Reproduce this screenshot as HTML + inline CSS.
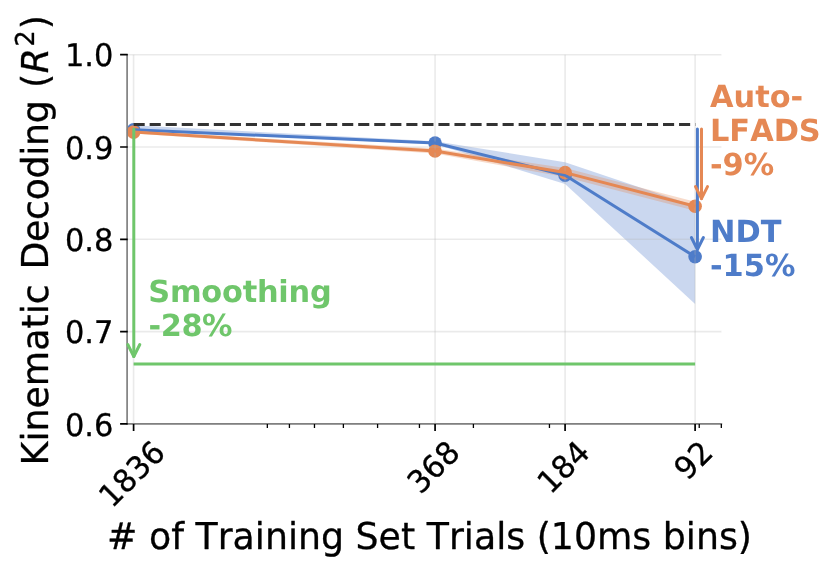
<!DOCTYPE html>
<html lang="en"><head><meta charset="utf-8"><title>Kinematic Decoding</title>
<style>html,body{margin:0;padding:0;background:#fff}svg{display:block}text{font-kerning:none}</style></head>
<body>
<svg width="831" height="571" viewBox="0 0 831 571" font-family="'DejaVu Sans', 'Liberation Sans', sans-serif" text-rendering="geometricPrecision">
<rect width="831" height="571" fill="#fff"/>
<polygon points="133.60,125.30 435.08,141.30 565.09,162.20 695.11,206.00 695.11,304.00 565.09,183.90 435.08,144.20 133.60,130.60" fill="#4e7cc9" fill-opacity="0.3"/>
<polygon points="133.60,130.60 435.08,148.50 565.09,168.10 695.11,201.70 695.11,210.70 565.09,177.10 435.08,153.50 133.60,133.60" fill="#e58854" fill-opacity="0.3"/>
<circle cx="133.60" cy="129.80" r="6.8" fill="#4e7cc9"/><circle cx="435.08" cy="143.00" r="6.8" fill="#4e7cc9"/><circle cx="565.09" cy="175.20" r="6.8" fill="#4e7cc9"/><circle cx="695.11" cy="256.80" r="6.8" fill="#4e7cc9"/>
<circle cx="133.60" cy="132.10" r="6.8" fill="#e58854"/><circle cx="435.08" cy="151.00" r="6.8" fill="#e58854"/><circle cx="565.09" cy="172.60" r="6.8" fill="#e58854"/><circle cx="695.11" cy="206.20" r="6.8" fill="#e58854"/>
<path d="M133.60 54.7 V423.9" stroke="#b0b0b0" stroke-opacity="0.27" stroke-width="1.6" fill="none"/>
<path d="M435.08 54.7 V423.9" stroke="#b0b0b0" stroke-opacity="0.27" stroke-width="1.6" fill="none"/>
<path d="M565.09 54.7 V423.9" stroke="#b0b0b0" stroke-opacity="0.27" stroke-width="1.6" fill="none"/>
<path d="M695.11 54.7 V423.9" stroke="#b0b0b0" stroke-opacity="0.27" stroke-width="1.6" fill="none"/>
<path d="M127.1 423.90 H721.4" stroke="#b0b0b0" stroke-opacity="0.27" stroke-width="1.6" fill="none"/>
<path d="M127.1 331.60 H721.4" stroke="#b0b0b0" stroke-opacity="0.27" stroke-width="1.6" fill="none"/>
<path d="M127.1 239.30 H721.4" stroke="#b0b0b0" stroke-opacity="0.27" stroke-width="1.6" fill="none"/>
<path d="M127.1 147.00 H721.4" stroke="#b0b0b0" stroke-opacity="0.27" stroke-width="1.6" fill="none"/>
<path d="M127.1 54.70 H721.4" stroke="#b0b0b0" stroke-opacity="0.27" stroke-width="1.6" fill="none"/>
<polyline points="133.60,129.80 435.08,143.00 565.09,175.20 695.11,256.80" fill="none" stroke="#4e7cc9" stroke-width="3" stroke-linejoin="round" stroke-linecap="butt"/>
<polyline points="133.60,132.10 435.08,151.00 565.09,172.60 695.11,206.20" fill="none" stroke="#e58854" stroke-width="3" stroke-linejoin="round" stroke-linecap="butt"/>
<path d="M133.60 124.5 H695.41" stroke="#333" stroke-width="3" stroke-dasharray="11.1 4.943" fill="none"/>
<path d="M133.60 363.9 H695.11" stroke="#6fc66b" stroke-width="3" fill="none"/>
<path d="M127.1 53.900000000000006 V423.9" stroke="#808080" stroke-width="1.7" fill="none"/>
<path d="M126.25 423.9 H722.1999999999999" stroke="#808080" stroke-width="1.7" fill="none"/>
<path d="M120.1 423.90 H127.69999999999999 M120.1 331.60 H127.69999999999999 M120.1 239.30 H127.69999999999999 M120.1 147.00 H127.69999999999999 M120.1 54.70 H127.69999999999999 M133.60 423.9 V430.9 M435.08 423.9 V430.9 M565.09 423.9 V430.9 M695.11 423.9 V430.9" stroke="#000" stroke-width="1.7" fill="none"/>
<path d="M267.33 423.9 V427.9 M289.42 423.9 V427.9 M314.47 423.9 V427.9 M343.38 423.9 V427.9 M377.58 423.9 V427.9 M419.44 423.9 V427.9 M473.40 423.9 V427.9 M549.45 423.9 V427.9 M699.23 423.9 V427.9 M721.32 423.9 V427.9" stroke="#000" stroke-width="1.3" fill="none"/>
<g stroke="#6fc66b" stroke-width="3" fill="none" stroke-linejoin="round" stroke-linecap="round"><path d="M133.80 129.0 V356.5"/><path d="M127.80 344.50 L133.80 356.50 L139.80 344.50"/></g>
<g stroke="#4e7cc9" stroke-width="3" fill="none" stroke-linejoin="round" stroke-linecap="round"><path d="M697.40 129.0 V249.5"/><path d="M691.40 237.50 L697.40 249.50 L703.40 237.50"/></g>
<g stroke="#e58854" stroke-width="3" fill="none" stroke-linejoin="round" stroke-linecap="round"><path d="M701.50 129.0 V198.6"/><path d="M695.50 186.60 L701.50 198.60 L707.50 186.60"/></g>
<g stroke="#000" stroke-width="0.3" stroke-linejoin="round">
<text transform="translate(113.4 435.60) scale(1 1.02)" font-size="30.5" text-anchor="end">0.6</text>
<text transform="translate(113.4 343.30) scale(1 1.02)" font-size="30.5" text-anchor="end">0.7</text>
<text transform="translate(113.4 251.00) scale(1 1.02)" font-size="30.5" text-anchor="end">0.8</text>
<text transform="translate(113.4 158.70) scale(1 1.02)" font-size="30.5" text-anchor="end">0.9</text>
<text transform="translate(113.4 66.40) scale(1 1.02)" font-size="30.5" text-anchor="end">1.0</text>
<text transform="translate(133.60 475.65) rotate(-45) translate(0 8.44) scale(1 1.02)" font-size="30.5" text-anchor="middle">1836</text>
<text transform="translate(435.08 468.79) rotate(-45) translate(0 8.44) scale(1 1.02)" font-size="30.5" text-anchor="middle">368</text>
<text transform="translate(565.09 468.79) rotate(-45) translate(0 8.44) scale(1 1.02)" font-size="30.5" text-anchor="middle">184</text>
<text transform="translate(695.11 461.93) rotate(-45) translate(0 8.44) scale(1 1.02)" font-size="30.5" text-anchor="middle">92</text>
<text transform="translate(107.0 549.1) scale(1 1.02)" font-size="36.3"># of Training Set Trials (10ms bins)</text>
<g transform="translate(47.7 465.4) rotate(-90) scale(1 1.02)" font-size="36.3"><text x="0" y="0">Kinematic</text><text x="195.85" y="0" letter-spacing="-0.33">Decoding</text><text x="377.3" y="0">(</text><text x="392.1" y="0" font-style="oblique">R</text><text x="418.9" y="-13.2" font-size="25.41">2</text><text x="436.1" y="0">)</text></g>
</g>
<text font-size="30.4" font-weight="bold" fill="#6fc66b"><tspan x="148.3" y="302.40" letter-spacing="-0.24">Smoothing</tspan><tspan x="148.5" y="336.25" letter-spacing="-0.43">-28%</tspan></text>
<text font-size="30.4" font-weight="bold" fill="#e58854"><tspan x="710.0" y="106.80">Auto-</tspan><tspan x="710.0" y="140.65">LFADS</tspan><tspan x="710.0" y="174.50">-9%</tspan></text>
<text font-size="30.4" font-weight="bold" fill="#4e7cc9"><tspan x="710.0" y="241.60">NDT</tspan><tspan x="710.0" y="275.95">-15%</tspan></text>
</svg>
</body></html>
